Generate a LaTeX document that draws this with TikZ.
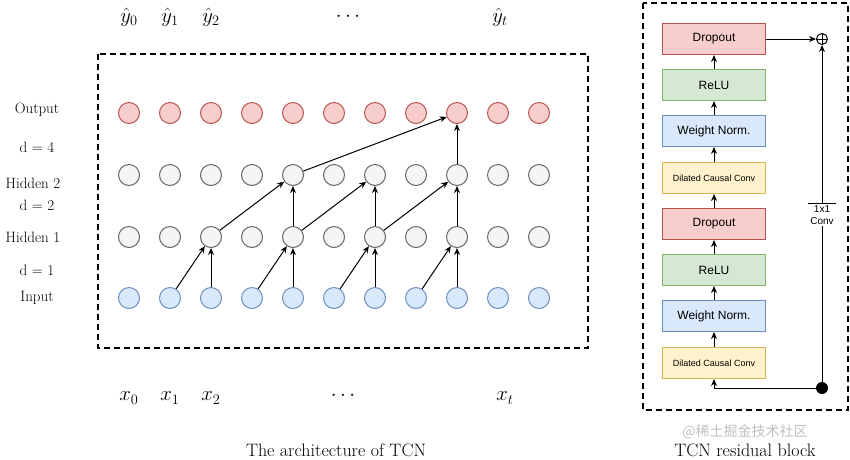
\documentclass[tikz,border=0pt]{standalone}
\usepackage{fontspec}
\newfontfamily\sans{Liberation Sans}
\newfontfamily\cjk{Noto Sans CJK SC}
\usetikzlibrary{arrows.meta}
\definecolor{rf}{HTML}{F8CECC}\definecolor{rs}{HTML}{B85450}
\definecolor{gf}{HTML}{D5E8D4}\definecolor{gs}{HTML}{82B366}
\definecolor{bf}{HTML}{DAE8FC}\definecolor{bs}{HTML}{6C8EBF}
\definecolor{yf}{HTML}{FFF2CC}\definecolor{ys}{HTML}{D6B656}
\definecolor{hf}{HTML}{F5F5F5}\definecolor{hs}{HTML}{666666}
\begin{document}
\begin{tikzpicture}[x=1pt,y=-1pt,line width=1pt,
  cir/.style={circle,draw,minimum size=21pt,inner sep=0pt},
  outc/.style={cir,fill=rf,draw=rs},
  hidc/.style={cir,fill=hf,draw=hs},
  inc/.style={cir,fill=bf,draw=bs},
  arr/.style={-{Stealth[length=7pt,width=6pt]},black},
  lab/.style={font=\fontsize{15}{17}\selectfont,inner sep=1pt},
  mlab/.style={font=\fontsize{20}{24}\selectfont,inner sep=1pt},
  blk/.style={draw,minimum width=103pt,minimum height=31pt,inner sep=0pt,font=\sans\fontsize{12}{14}\selectfont},
  small/.style={blk,font=\sans\fontsize{9}{11}\selectfont},
  dashbox/.style={draw,line width=1.8pt,dash pattern=on 6pt off 4pt}]
\useasboundingbox (0,0) rectangle (850,459);
\draw[dashbox] (98,54) rectangle (588,348);
\foreach \i in {0,...,10}{
  \pgfmathsetmacro\x{129+41*\i}
  \node[outc] (o\i) at (\x,113) {};
  \node[hidc] (b\i) at (\x,175) {};
  \node[hidc] (a\i) at (\x,237) {};
  \node[inc] (n\i) at (\x,298) {};
}
\foreach \t/\s in {2/1,4/3,6/5,8/7}{
  \draw[arr] (n\s) -- (a\t);
  \draw[arr] (n\t) -- (a\t);
}
\foreach \t/\s in {4/2,6/4,8/6}{
  \draw[arr] (a\s) -- (b\t);
  \draw[arr] (a\t) -- (b\t);
}
\draw[arr] (b4) -- (o8);
\draw[arr] (b8) -- (o8);
\node[lab] (l1) at (37,110) {Output};
\node[lab] (l2) at (37,147) {d $=$ 4};
\node[lab] (l3) at (33,183) {Hidden 2};
\node[lab] (l4) at (37,205) {d $=$ 2};
\node[lab] (l5) at (33,237) {Hidden 1};
\node[lab] (l6) at (37,270) {d $=$ 1};
\node[lab] (l7) at (37,298) {Input};
\foreach \i/\x in {0/129,1/170,2/211}{
  \node[mlab] (y\i) at (\x,17) {$\hat y_{\i}$};
  \node[mlab] (x\i) at (\x,398) {$x_{\i}$};
}
\node[mlab] (yd) at (348,17) {$\cdots$};
\node[mlab] (xd) at (343,396) {$\cdots$};
\node[mlab] (yt) at (500,17) {$\hat y_{t}$};
\node[mlab] (xt) at (505,398) {$x_{t}$};
\node[font=\fontsize{18}{20}\selectfont] (c1) at (336,450) {The architecture of TCN};
% right block
\draw[dashbox] (643,3) rectangle (848,410);
\node[blk,fill=rf,draw=rs] (k1) at (714,39) {Dropout};
\node[blk,fill=gf,draw=gs] (k2) at (714,85) {ReLU};
\node[blk,fill=bf,draw=bs] (k3) at (714,131) {Weight Norm.};
\node[small,fill=yf,draw=ys] (k4) at (714,178) {Dilated Causal Conv};
\node[blk,fill=rf,draw=rs] (k5) at (714,224) {Dropout};
\node[blk,fill=gf,draw=gs] (k6) at (714,270) {ReLU};
\node[blk,fill=bf,draw=bs] (k7) at (714,316) {Weight Norm.};
\node[small,fill=yf,draw=ys] (k8) at (714,363) {Dilated Causal Conv};
\foreach \a/\b in {k8/k7,k7/k6,k6/k5,k5/k4,k4/k3,k3/k2,k2/k1}
  \draw[arr] (\a) -- (\b);
\node[circle,draw,inner sep=0pt,minimum size=11pt] (plus) at (822,39) {};
\draw (plus.north) -- (plus.south) (plus.west) -- (plus.east);
\draw[arr] (k1) -- (plus);
\node[circle,fill=black,inner sep=0pt,minimum size=12pt] (dot) at (822,388) {};
\coordinate (corner) at (714,388);
\draw[arr] (dot.center) -- (corner) -- (k8);
\draw[arr] (dot.center) -- (plus);
\node[fill=white,inner sep=1.5pt,align=center,font=\sans\fontsize{10}{12}\selectfont] (cv) at (822,215) {1x1\\Conv};
\draw (cv.north west) -- (cv.north east);
\node[text=black!25,font=\cjk\fontsize{14}{16}\selectfont] (wm) at (745,432) {@稀土掘金技术社区};
\node[font=\fontsize{18}{20}\selectfont] (c2) at (745,450) {TCN residual block};
\end{tikzpicture}
\end{document}
